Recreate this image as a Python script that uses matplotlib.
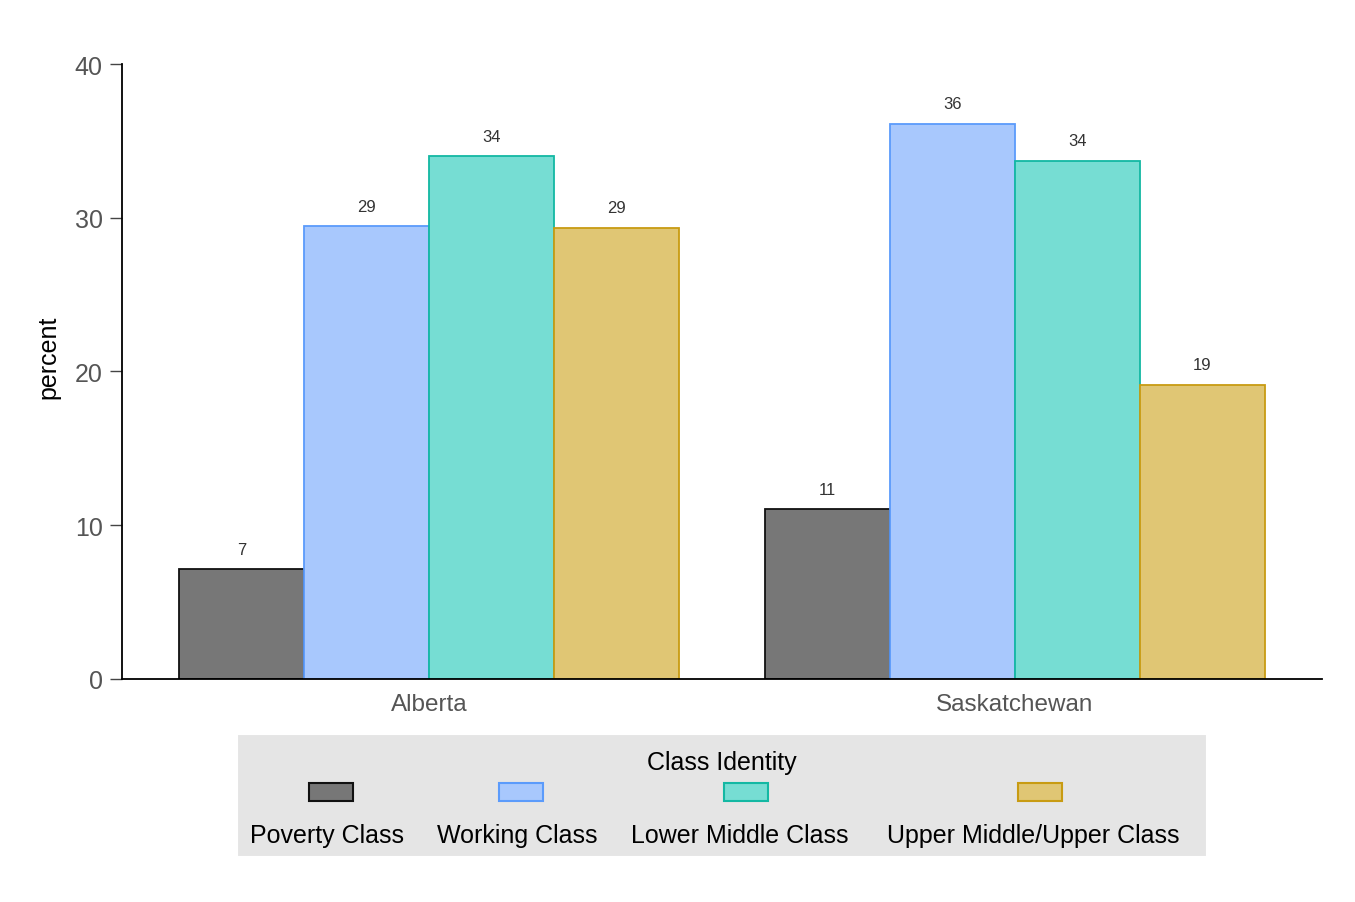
import matplotlib
matplotlib.use('Agg')
import matplotlib.pyplot as plt
from matplotlib.patches import Rectangle
import numpy as np

plt.rcParams['font.family'] = ['Liberation Sans', 'DejaVu Sans']

provinces = ['Alberta', 'Saskatchewan']
classes = ['Poverty Class', 'Working Class', 'Lower Middle Class', 'Upper Middle/Upper Class']
poverty = [7.15, 11.05]
working = [29.45, 36.1]
lower_middle = [34.0, 33.7]
upper_middle = [29.35, 19.15]

fills = ['#777777', '#a8c8fd', '#76ddd3', '#e0c674']
edges = ['#111111', '#5b9bfb', '#13b8a3', '#c89b12']

series = [poverty, working, lower_middle, upper_middle]

fig = plt.figure(figsize=(13.55, 9.03), dpi=100)
ax = fig.add_axes([0.090, 0.247, 0.8856, 0.681])

x = np.arange(len(provinces))
width = 0.2133
for i, vals in enumerate(series):
    pos = x + (i - 1.5) * width
    bars = ax.bar(pos, vals, width=width * 0.995, color=fills[i], edgecolor=edges[i],
                  linewidth=1.3, label=classes[i])
    for b, v in zip(bars, vals):
        ax.annotate(f'{v:.0f}', (b.get_x() + b.get_width() / 2, v),
                    xytext=(0, 9), textcoords='offset points',
                    ha='center', va='bottom', fontsize=12, color='#333333')

ax.set_xlim(-0.524, 1.524)
ax.set_ylim(0, 40)
ax.set_yticks([0, 10, 20, 30, 40])
ax.set_xticks(x)
ax.set_xticklabels(provinces)
ax.tick_params(axis='y', length=9, width=1, color='#444444', labelsize=18,
               labelcolor='#555555', pad=5)
ax.tick_params(axis='x', length=0, labelsize=17.5, labelcolor='#555555', pad=10)
ax.spines['top'].set_visible(False)
ax.spines['right'].set_visible(False)
ax.spines['left'].set_linewidth(1.3)
ax.spines['bottom'].set_linewidth(1.3)
ax.set_ylabel('percent', fontsize=18)
ax.yaxis.set_label_coords(-0.051, 0.525)

# legend drawn by hand: swatches above labels
fw, fh = 1355, 903
def fx(px):
    return px / fw
def fy(py):
    return 1 - py / fh

fig.patches.append(Rectangle((fx(237), fy(858)), fx(1207) - fx(237), fy(735) - fy(858),
                             transform=fig.transFigure, facecolor='#e5e5e5',
                             edgecolor='white', linewidth=1.5))
fig.text(fx(722), fy(763), 'Class Identity', ha='center', va='center', fontsize=18)
handle_x = [331, 521, 746, 1040]
label_x = [327, 517, 740, 1033]
for i, name in enumerate(classes):
    fig.patches.append(Rectangle((fx(handle_x[i] - 22), fy(802)), fx(44), 18 / fh,
                                 transform=fig.transFigure, facecolor=fills[i],
                                 edgecolor=edges[i], linewidth=1.5))
    fig.text(fx(label_x[i]), fy(836), name, ha='center', va='center', fontsize=18)

fig.savefig('out.png', dpi=100)
